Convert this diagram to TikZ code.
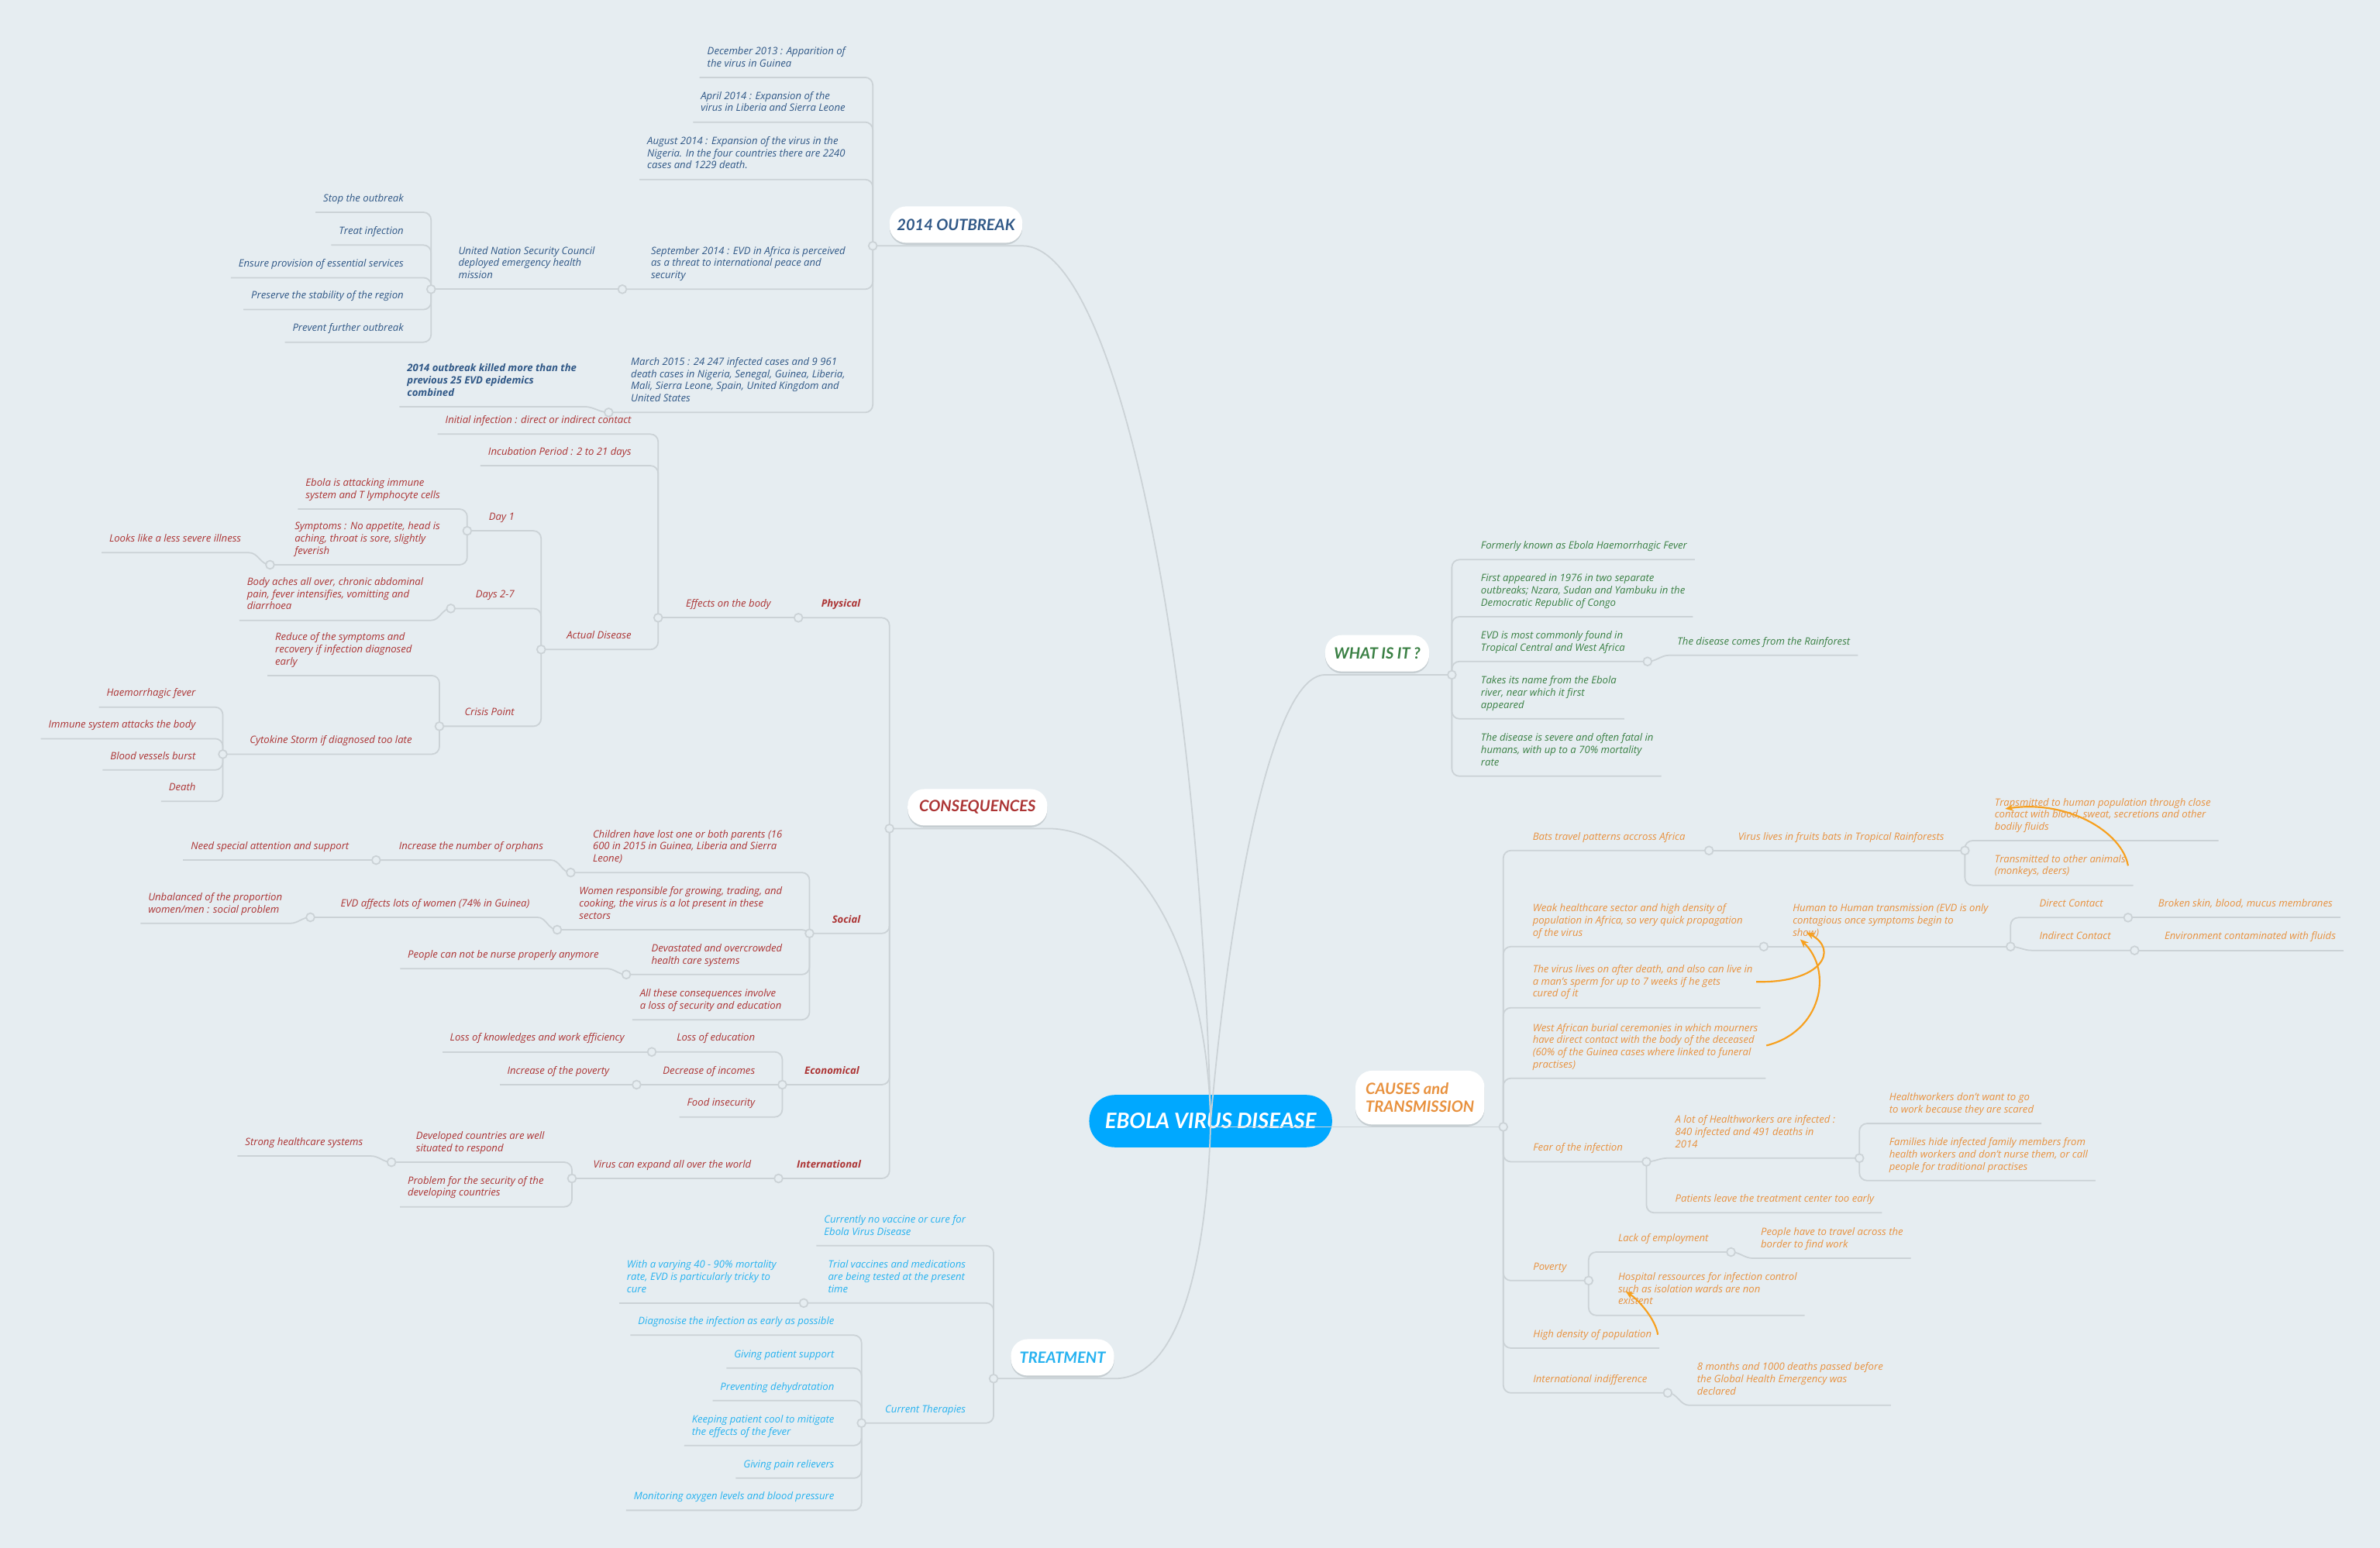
\documentclass[tikz,border=0pt]{standalone}
\usepackage{fontspec}
\setmainfont{Open Sans}
\newfontfamily\tfont{Lato}
\usetikzlibrary{arrows.meta,shadows}
\definecolor{bgc}{RGB}{230,237,241}
\definecolor{lnc}{RGB}{203,210,214}
\definecolor{shc}{RGB}{198,206,210}
\definecolor{obc}{RGB}{48,88,135}
\definecolor{csc}{RGB}{172,52,52}
\definecolor{wic}{RGB}{58,128,68}
\definecolor{cac}{RGB}{232,145,62}
\definecolor{trc}{RGB}{38,178,240}
\definecolor{roc}{RGB}{0,168,255}
\definecolor{arc}{RGB}{247,160,30}
\begin{document}
\begin{tikzpicture}[x=2pt,y=-2pt,
  conn/.style={draw=lnc,line width=1.8pt,rounded corners=10pt},
  mainc/.style={draw=lnc,line width=1.8pt},
  tx/.style={font=\fontsize{13.4}{16}\selectfont\itshape,align=left,inner xsep=10pt,inner ysep=9pt,execute at end node=\strut},
  lt/.style={tx,anchor=south east},
  rt/.style={tx,anchor=south west},
  pill/.style={fill=white,rounded corners=22pt,minimum height=48pt,align=left,
    font=\tfont\fontsize{20.5}{24}\selectfont\bfseries\itshape,
    drop shadow={shadow xshift=0pt,shadow yshift=-2.5pt,fill=shc,opacity=1}},
  dotst/.style={draw=lnc,fill=bgc,line width=1.8pt},
  rel/.style={draw=arc,line width=2.2pt,-{Stealth[length=11pt,width=9pt]}}]
    \newcommand{\lkl}[3]{\draw[conn] (#1) -- (#2.south east) -| (#3);}
    \newcommand{\lkr}[3]{\draw[conn] (#1) -- (#2.south west) -| (#3);}
    \newcommand{\lkc}[3]{\draw[conn,sharp corners] (#1) -- (#2.south east) to[out=0,in=180] (#3);}
    \newcommand{\lkrc}[3]{\draw[conn,sharp corners] (#1) -- (#2.south west) to[out=180,in=0] (#3);}
    \newcommand{\dt}[1]{\filldraw[dotst] (#1) circle (5.5pt);}
    \useasboundingbox (0,0) rectangle (1568,1020);
    \fill[bgc] (0,0) rectangle (1568,1020);
    % junction points
    \coordinate (obd) at (575,162);
    \coordinate (o4d) at (410,190.6);
    \coordinate (u1d) at (284,190.6);
    \coordinate (o5d) at (401,271.8);
    \coordinate (csd) at (586,546);
    \coordinate (phd) at (526,407.1);
    \coordinate (efd) at (433.6,407.1);
    \coordinate (add) at (356.5,428);
    \coordinate (d1d) at (307.8,349.8);
    \coordinate (syd) at (177.9,372.2);
    \coordinate (d2d) at (297,401);
    \coordinate (cpd) at (289.5,478.6);
    \coordinate (cyd) at (146.8,497);
    \coordinate (sod) at (533.3,615.1);
    \coordinate (chd) at (376,575);
    \coordinate (ord) at (247.8,566.8);
    \coordinate (wod) at (367.1,612.7);
    \coordinate (evd) at (204.5,604.5);
    \coordinate (dvd) at (412.6,642.2);
    \coordinate (ecd) at (515.4,714.8);
    \coordinate (led) at (429.4,693.2);
    \coordinate (ded) at (419.4,714.8);
    \coordinate (ind) at (512.9,776.6);
    \coordinate (vid) at (376.8,776.6);
    \coordinate (dcd) at (257.9,765.9);
    \coordinate (trd) at (654.6,908.5);
    \coordinate (tvd) at (529.5,858.7);
    \coordinate (ctd) at (567.6,937.8);
    \coordinate (wid) at (956.5,444.7);
    \coordinate (evfd) at (1085.4,435.9);
    \coordinate (cad) at (990.4,742.6);
    \coordinate (bad) at (1125.9,560.5);
    \coordinate (vld) at (1294.5,560.5);
    \coordinate (whd) at (1162,623.8);
    \coordinate (hhd) at (1324.6,623.8);
    \coordinate (dtd) at (1402,604.7);
    \coordinate (idd) at (1406.3,626.3);
    \coordinate (fed) at (1084.7,765.6);
    \coordinate (hwd) at (1225,763.2);
    \coordinate (pod) at (1046.6,843.9);
    \coordinate (lad) at (1140.4,825.1);
    \coordinate (iid) at (1098.7,917.9);

    % 2014 outbreak
    \node[lt,text=obc] (o1) at (562,51) {December 2013 : Apparition of\\the virus in Guinea};
    \node[lt,text=obc] (o2) at (562,80.5) {April 2014 : Expansion of the\\virus in Liberia and Sierra Leone};
    \node[lt,text=obc] (o3) at (562,118.3) {August 2014 : Expansion of the virus in the\\Nigeria. In the four countries there are 2240\\cases and 1229 death.};
    \node[lt,text=obc] (o4) at (562,190.6) {September 2014 : EVD in Africa is perceived\\as a threat to international peace and\\security};
    \node[lt,text=obc] (o5) at (562,271.8) {March 2015 : 24 247 infected cases and 9 961\\death cases in Nigeria, Senegal, Guinea, Liberia,\\Mali, Sierra Leone, Spain, United Kingdom and\\United States};
    \node[lt,text=obc] (u1) at (397,190.6) {United Nation Security Council\\deployed emergency health\\mission};
    \node[lt,text=obc] (u2) at (271,139.9) {Stop the outbreak};
    \node[lt,text=obc] (u3) at (271,161.5) {Treat infection};
    \node[lt,text=obc] (u4) at (271,183) {Ensure provision of essential services};
    \node[lt,text=obc] (u5) at (271,204) {Preserve the stability of the region};
    \node[lt,text=obc] (u6) at (271,225.5) {Prevent further outbreak};
    \node[lt,text=obc] (k1) at (385,268) {\bfseries 2014 outbreak killed more than the\\\bfseries previous 25 EVD epidemics\\\bfseries combined};

    % consequences
    \node[lt,text=csc] (ph) at (572,407.1) {\bfseries Physical};
    \node[lt,text=csc] (ef) at (513,407.1) {Effects on the body};
    \node[lt,text=csc] (ii) at (421,286.1) {Initial infection : direct or indirect contact};
    \node[lt,text=csc] (ip) at (421,306.9) {Incubation Period : 2 to 21 days};
    \node[lt,text=csc] (ad) at (421,428) {Actual Disease};
    \node[lt,text=csc] (d1) at (344,349.8) {Day 1};
    \node[lt,text=csc] (ea) at (295,335.5) {Ebola is attacking immune\\system and T lymphocyte cells};
    \node[lt,text=csc] (sy) at (295,372.2) {Symptoms : No appetite, head is\\aching, throat is sore, slightly\\feverish};
    \node[lt,text=csc] (ll) at (164,364.2) {Looks like a less severe illness};
    \node[lt,text=csc] (d2) at (344,401) {Days 2-7};
    \node[lt,text=csc] (ba) at (284,408.8) {Body aches all over, chronic abdominal\\pain, fever intensifies, vomitting and\\diarrhoea};
    \node[lt,text=csc] (cp) at (344,478.6) {Crisis Point};
    \node[lt,text=csc] (re) at (276.5,445.2) {Reduce of the symptoms and\\recovery if infection diagnosed\\early};
    \node[lt,text=csc] (cy) at (276.5,497) {Cytokine Storm if diagnosed too late};
    \node[lt,text=csc] (hf) at (134,466) {Haemorrhagic fever};
    \node[lt,text=csc] (im) at (134,486.8) {Immune system attacks the body};
    \node[lt,text=csc] (bv) at (134,507.4) {Blood vessels burst};
    \node[lt,text=csc] (de) at (134,528.1) {Death};
    \node[lt,text=csc] (so) at (572,615.1) {\bfseries Social};
    \node[lt,text=csc] (ch) at (520.4,575) {Children have lost one or both parents (16\\600 in 2015 in Guinea, Liberia and Sierra\\Leone)};
    \node[lt,text=csc] (or) at (363,566.8) {Increase the number of orphans};
    \node[lt,text=csc] (ne) at (235,566.8) {Need special attention and support};
    \node[lt,text=csc] (wo) at (520.4,612.7) {Women responsible for growing, trading, and\\cooking, the virus is a lot present in these\\sectors};
    \node[lt,text=csc] (ev) at (354,604.5) {EVD affects lots of women (74\% in Guinea)};
    \node[lt,text=csc] (un) at (191,608.5) {Unbalanced of the proportion\\women/men : social problem};
    \node[lt,text=csc] (dv) at (520.4,642.2) {Devastated and overcrowded\\health care systems};
    \node[lt,text=csc] (pe) at (399.6,638.3) {People can not be nurse properly anymore};
    \node[lt,text=csc] (al) at (520,672) {All these consequences involve\\a loss of security and education};
    \node[lt,text=csc] (ec) at (571.2,714.8) {\bfseries Economical};
    \node[lt,text=csc] (le) at (502.5,693.2) {Loss of education};
    \node[lt,text=csc] (lk) at (416.5,693.2) {Loss of knowledges and work efficiency};
    \node[lt,text=csc] (dc) at (502.5,714.8) {Decrease of incomes};
    \node[lt,text=csc] (ip2) at (406.5,714.8) {Increase of the poverty};
    \node[lt,text=csc] (fi) at (502.5,736.1) {Food insecurity};
    \node[lt,text=csc] (in) at (572.3,776.6) {\bfseries International};
    \node[lt,text=csc] (vi) at (500,776.6) {Virus can expand all over the world};
    \node[lt,text=csc] (dcn) at (363.8,765.9) {Developed countries are well\\situated to respond};
    \node[lt,text=csc] (sh) at (244.2,761.8) {Strong healthcare systems};
    \node[lt,text=csc] (pr) at (363.3,795.3) {Problem for the security of the\\developing countries};

    % treatment
    \node[lt,text=trc] (cn) at (641.3,820.9) {Currently no vaccine or cure for\\Ebola Virus Disease};
    \node[lt,text=trc] (tv) at (641.3,858.7) {Trial vaccines and medications\\are being tested at the present\\time};
    \node[lt,text=trc] (wv) at (516.6,858.7) {With a varying 40 - 90\% mortality\\rate, EVD is particularly tricky to\\cure};
    \node[lt,text=trc] (ct) at (641.3,937.8) {Current Therapies};
    \node[lt,text=trc] (t1) at (554.7,879.9) {Diagnosise the infection as early as possible};
    \node[lt,text=trc] (t2) at (554.7,901.6) {Giving patient support};
    \node[lt,text=trc] (t3) at (554.7,923) {Preventing dehydratation};
    \node[lt,text=trc] (t4) at (554.7,952.6) {Keeping patient cool to mitigate\\the effects of the fever};
    \node[lt,text=trc] (t5) at (554.7,974.1) {Giving pain relievers};
    \node[lt,text=trc] (t6) at (554.7,995.3) {Monitoring oxygen levels and blood pressure};

    % what is it
    \node[rt,text=wic] (w1) at (970.6,368.8) {Formerly known as Ebola Haemorrhagic Fever};
    \node[rt,text=wic] (w2) at (970.6,406.4) {First appeared in 1976 in two separate\\outbreaks; Nzara, Sudan and Yambuku in the\\Democratic Republic of Congo};
    \node[rt,text=wic] (w3) at (970.6,435.9) {EVD is most commonly found in\\Tropical Central and West Africa};
    \node[rt,text=wic] (w3a) at (1100,431.8) {The disease comes from the Rainforest};
    \node[rt,text=wic] (w4) at (970.6,473.7) {Takes its name from the Ebola\\river, near which it first\\appeared};
    \node[rt,text=wic] (w5) at (970.6,511.5) {The disease is severe and often fatal in\\humans, with up to a 70\% mortality\\rate};

    % causes and transmission
    \node[rt,text=cac] (c1) at (1004.7,560.5) {Bats travel patterns accross Africa};
    \node[rt,text=cac] (c1a) at (1140,560.5) {Virus lives in fruits bats in Tropical Rainforests};
    \node[rt,text=cac] (c1b) at (1309,554) {Transmitted to human population through close\\contact with blood, sweat, secretions and other\\bodily fluids};
    \node[rt,text=cac] (c1c) at (1309,583.4) {Transmitted to other animals\\(monkeys, deers)};
    \node[rt,text=cac] (c2) at (1004.7,623.8) {Weak healthcare sector and high density of\\population in Africa, so very quick propagation\\of the virus};
    \node[rt,text=cac] (c2a) at (1176,623.8) {Human to Human transmission (EVD is only\\contagious once symptoms begin to\\show)};
    \node[rt,text=cac] (c2b) at (1338.5,604.7) {Direct Contact};
    \node[rt,text=cac] (c2c) at (1416.8,604.7) {Broken skin, blood, mucus membranes};
    \node[rt,text=cac] (c2d) at (1338.5,626.3) {Indirect Contact};
    \node[rt,text=cac] (c2e) at (1421,626.3) {Environment contaminated with fluids};
    \node[rt,text=cac] (c3) at (1004.7,664.1) {The virus lives on after death, and also can live in\\a man's sperm for up to 7 weeks if he gets\\cured of it};
    \node[rt,text=cac] (c4) at (1004.7,710.6) {West African burial ceremonies in which mourners\\have direct contact with the body of the deceased\\(60\% of the Guinea cases where linked to funeral\\practises)};
    \node[rt,text=cac] (c5) at (1005,765.6) {Fear of the infection};
    \node[rt,text=cac] (c5a) at (1098.6,763.2) {A lot of Healthworkers are infected :\\840 infected and 491 deaths in\\2014};
    \node[rt,text=cac] (c5b) at (1239.6,740.4) {Healthworkers don't want to go\\to work because they are scared};
    \node[rt,text=cac] (c5c) at (1239.6,778) {Families hide infected family members from\\health workers and don't nurse them, or call\\people for traditional practises};
    \node[rt,text=cac] (c5d) at (1098.6,799.2) {Patients leave the treatment center too early};
    \node[rt,text=cac] (c6) at (1005,843.9) {Poverty};
    \node[rt,text=cac] (c6a) at (1061,825.1) {Lack of employment};
    \node[rt,text=cac] (c6b) at (1155,829.2) {People have to travel across the\\border to find work};
    \node[rt,text=cac] (c6c) at (1061,866.8) {Hospital ressources for infection control\\such as isolation wards are non\\existent};
    \node[rt,text=cac] (c7) at (1005,888.4) {High density of population};
    \node[rt,text=cac] (c8) at (1005,917.9) {International indifference};
    \node[rt,text=cac] (c8a) at (1113,926.1) {8 months and 1000 deaths passed before\\the Global Health Emergency was\\declared};

    % main topics
    \node[pill,text=obc,minimum width=175pt] (ob) at (629.8,148) {2014 OUTBREAK};
    \node[pill,text=csc,minimum width=184pt] (cs) at (644,532) {CONSEQUENCES};
    \node[pill,text=wic,minimum width=137pt] (wi) at (907.3,430.5) {WHAT IS IT ?};
    \node[pill,text=cac,minimum width=170pt,minimum height=71pt] (ca) at (935.5,723.3) {CAUSES and\\TRANSMISSION};
    \node[pill,text=trc,minimum width=136pt] (tr) at (700,894.5) {TREATMENT};
    \node[fill=roc,text=white,rounded corners=34pt,minimum width=320pt,minimum height=69pt,
      font=\tfont\fontsize{28}{32}\selectfont\bfseries\itshape] (root) at (797.6,738.8) {EBOLA VIRUS DISEASE};

    % branches
    \lkl{o1.south west}{o1}{obd}
    \lkl{o2.south west}{o2}{obd}
    \lkl{o3.south west}{o3}{obd}
    \lkl{o4d}{o4}{obd}
    \lkl{o5d}{o5}{obd}
    \draw[conn] (u1d) -- (o4d);
    \lkl{u2.south west}{u2}{u1d}
    \lkl{u3.south west}{u3}{u1d}
    \lkl{u4.south west}{u4}{u1d}
    \lkl{u5.south west}{u5}{u1d}
    \lkl{u6.south west}{u6}{u1d}
    \lkc{k1.south west}{k1}{o5d}

    \lkl{phd}{ph}{csd}
    \draw[conn] (efd) -- (phd);
    \lkl{ii.south west}{ii}{efd}
    \lkl{ip.south west}{ip}{efd}
    \lkl{add}{ad}{efd}
    \lkl{d1d}{d1}{add}
    \lkl{ea.south west}{ea}{d1d}
    \lkl{syd}{sy}{d1d}
    \lkc{ll.south west}{ll}{syd}
    \lkl{d2d}{d2}{add}
    \lkc{ba.south west}{ba}{d2d}
    \lkl{cpd}{cp}{add}
    \lkl{re.south west}{re}{cpd}
    \lkl{cyd}{cy}{cpd}
    \lkl{hf.south west}{hf}{cyd}
    \lkl{im.south west}{im}{cyd}
    \lkl{bv.south west}{bv}{cyd}
    \lkl{de.south west}{de}{cyd}
    \lkl{sod}{so}{csd}
    \lkl{chd}{ch}{sod}
    \lkc{ord}{or}{chd}
    \draw[conn] (ne.south west) -- (ord);
    \lkl{wod}{wo}{sod}
    \lkc{evd}{ev}{wod}
    \lkc{un.south west}{un}{evd}
    \lkl{dvd}{dv}{sod}
    \lkc{pe.south west}{pe}{dvd}
    \lkl{al.south west}{al}{sod}
    \lkl{ecd}{ec}{csd}
    \lkl{led}{le}{ecd}
    \draw[conn] (lk.south west) -- (led);
    \draw[conn] (ded) -- (ecd);
    \draw[conn] (ip2.south west) -- (ded);
    \lkl{fi.south west}{fi}{ecd}
    \lkl{ind}{in}{csd}
    \draw[conn] (vid) -- (ind);
    \lkl{dcd}{dcn}{vid}
    \lkc{sh.south west}{sh}{dcd}
    \lkl{pr.south west}{pr}{vid}

    \lkl{cn.south west}{cn}{trd}
    \lkl{tvd}{tv}{trd}
    \draw[conn] (wv.south west) -- (tvd);
    \lkl{ctd}{ct}{trd}
    \lkl{t1.south west}{t1}{ctd}
    \lkl{t2.south west}{t2}{ctd}
    \lkl{t3.south west}{t3}{ctd}
    \lkl{t4.south west}{t4}{ctd}
    \lkl{t5.south west}{t5}{ctd}
    \lkl{t6.south west}{t6}{ctd}

    \lkr{w1.south east}{w1}{wid}
    \lkr{w2.south east}{w2}{wid}
    \lkr{evfd}{w3}{wid}
    \lkrc{w3a.south east}{w3a}{evfd}
    \lkr{w4.south east}{w4}{wid}
    \lkr{w5.south east}{w5}{wid}

    \lkr{bad}{c1}{cad}
    \draw[conn] (vld) -- (bad);
    \lkr{c1b.south east}{c1b}{vld}
    \lkr{c1c.south east}{c1c}{vld}
    \lkr{whd}{c2}{cad}
    \draw[conn] (hhd) -- (whd);
    \lkr{dtd}{c2b}{hhd}
    \draw[conn] (c2c.south east) -- (dtd);
    \lkrc{idd}{c2d}{hhd}
    \draw[conn] (c2e.south east) -- (idd);
    \lkr{c3.south east}{c3}{cad}
    \lkr{c4.south east}{c4}{cad}
    \lkr{fed}{c5}{cad}
    \lkrc{hwd}{c5a}{fed}
    \lkr{c5b.south east}{c5b}{hwd}
    \lkr{c5c.south east}{c5c}{hwd}
    \lkr{c5d.south east}{c5d}{fed}
    \lkr{pod}{c6}{cad}
    \lkr{lad}{c6a}{pod}
    \lkrc{c6b.south east}{c6b}{lad}
    \lkr{c6c.south east}{c6c}{pod}
    \lkr{c7.south east}{c7}{cad}
    \lkr{iid}{c8}{cad}
    \lkrc{c8a.south east}{c8a}{iid}

    % main curves
    \draw[mainc] (obd) -- (obd -| ob.east) .. controls +(60,0) and +(-8,-319) .. (root.center);
    \draw[mainc] (csd) -- (csd -| cs.east) .. controls +(55,0) and +(-3,-120) .. (root.center);
    \draw[mainc] (wid) -- (wid -| wi.west) .. controls +(-38,0) and +(10,-119) .. (root.center);
    \draw[mainc] (root.center |- cad) -- (cad);
    \draw[mainc] (trd) -- (trd -| tr.east) .. controls +(46,0) and +(-2,82) .. (root.center);

    \dt{obd}\dt{o4d}\dt{u1d}\dt{o5d}
    \dt{csd}\dt{phd}\dt{efd}\dt{add}\dt{d1d}\dt{syd}\dt{d2d}\dt{cpd}\dt{cyd}
    \dt{sod}\dt{chd}\dt{ord}\dt{wod}\dt{evd}\dt{dvd}
    \dt{ecd}\dt{led}\dt{ded}\dt{ind}\dt{vid}\dt{dcd}
    \dt{trd}\dt{tvd}\dt{ctd}
    \dt{wid}\dt{evfd}
    \dt{cad}\dt{bad}\dt{vld}\dt{whd}\dt{hhd}\dt{dtd}\dt{idd}
    \dt{fed}\dt{hwd}\dt{pod}\dt{lad}\dt{iid}

    % relationships
    \coordinate (r1s) at (1402,570.5);
    \coordinate (r1e) at (1321,533);
    \coordinate (r2s) at (1157,647);
    \coordinate (r2e) at (1190,614.4);
    \coordinate (r3s) at (1163.7,689);
    \coordinate (r3e) at (1186,619);
    \coordinate (r4s) at (1092.2,879.6);
    \coordinate (r4e) at (1071,851);
    \draw[rel] (r1s) .. controls (1398,548) and (1362,527) .. (r1e);
    \draw[rel] (r2s) .. controls (1200,648) and (1212,626) .. (r2e);
    \draw[rel] (r3s) .. controls (1200,680) and (1208,640) .. (r3e);
    \draw[rel] (r4s) .. controls (1091,870) and (1080,857) .. (r4e);
\end{tikzpicture}
\end{document}
